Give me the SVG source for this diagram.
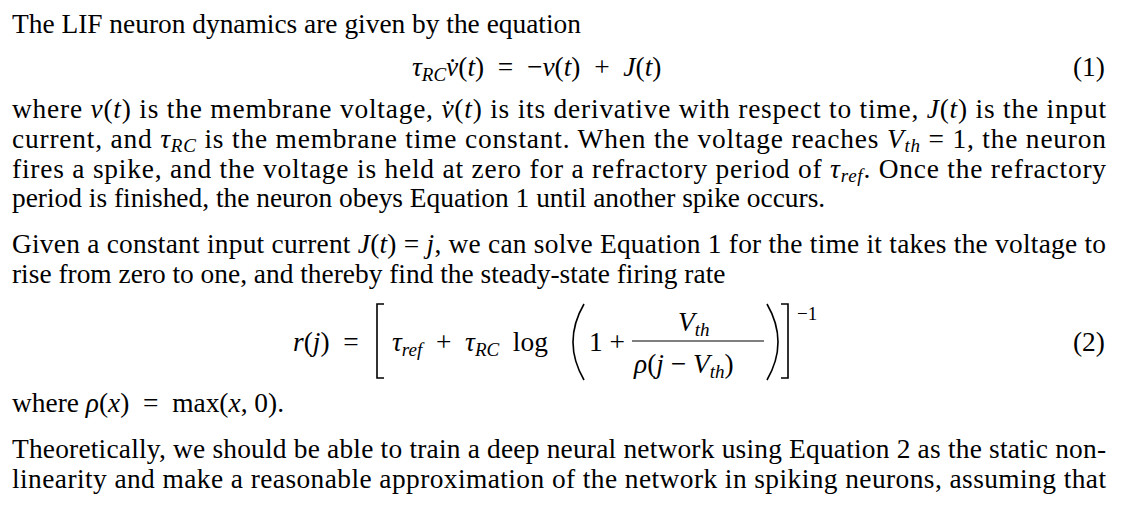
<svg xmlns="http://www.w3.org/2000/svg" width="1121" height="505" viewBox="0 0 1121 505">
<style>
text{font-family:"Liberation Serif","Times New Roman",serif;font-size:27.4px;fill:#000}
.i{font-style:italic}
.s{font-size:19px}
.d{fill:none;stroke:#000;stroke-width:1.6}
</style>
<rect width="1121" height="505" fill="#fff"/>
<text x="12" y="33">The LIF neuron dynamics are given by the equation</text>
<text x="412" y="76" xml:space="preserve"><tspan class="i">τ</tspan><tspan class="i s" dy="5">RC</tspan><tspan class="i" dy="-5">v̇</tspan>(<tspan class="i">t</tspan>)  =  −<tspan class="i">v</tspan>(<tspan class="i">t</tspan>)  +  <tspan class="i">J</tspan>(<tspan class="i">t</tspan>)</text>
<text x="1073" y="76">(1)</text>
<text x="12" y="118" textLength="1094" lengthAdjust="spacing">where <tspan class="i">v</tspan>(<tspan class="i">t</tspan>) is the membrane voltage, <tspan class="i">v̇</tspan>(<tspan class="i">t</tspan>) is its derivative with respect to time, <tspan class="i">J</tspan>(<tspan class="i">t</tspan>) is the input</text>
<text x="12" y="148" textLength="1094" lengthAdjust="spacing">current, and <tspan class="i">τ</tspan><tspan class="i s" dy="4">RC</tspan><tspan dy="-4"> is the membrane time constant.  When the voltage reaches </tspan><tspan class="i">V</tspan><tspan class="i s" dy="4">th</tspan><tspan dy="-4"> = 1, the neuron</tspan></text>
<text x="12" y="178" textLength="1094" lengthAdjust="spacing">fires a spike, and the voltage is held at zero for a refractory period of <tspan class="i">τ</tspan><tspan class="i s" dy="4">ref</tspan><tspan dy="-4">.  Once the refractory</tspan></text>
<text x="12" y="207">period is finished, the neuron obeys Equation 1 until another spike occurs.</text>
<text x="12" y="253" textLength="1094" lengthAdjust="spacing">Given a constant input current <tspan class="i">J</tspan>(<tspan class="i">t</tspan>) = <tspan class="i">j</tspan>, we can solve Equation 1 for the time it takes the voltage to</text>
<text x="12" y="283">rise from zero to one, and thereby find the steady-state firing rate</text>
<text x="293" y="351" xml:space="preserve"><tspan class="i">r</tspan>(<tspan class="i">j</tspan>)  =</text>
<path class="d" d="M384,304 H377 V378 H384"/>
<text x="392" y="351" xml:space="preserve"><tspan class="i">τ</tspan><tspan class="i s" dy="5">ref</tspan><tspan dy="-5">  +  </tspan><tspan class="i">τ</tspan><tspan class="i s" dy="5">RC</tspan><tspan dy="-5">  log</tspan></text>
<path class="d" d="M584,304 Q562,342 584,380"/>
<text x="589" y="351" xml:space="preserve">1 +</text>
<text x="678" y="331"><tspan class="i">V</tspan><tspan class="i s" dy="5">th</tspan></text>
<line x1="632" y1="341" x2="764" y2="341" stroke="#000" stroke-width="1.2"/>
<text x="634" y="373" xml:space="preserve"><tspan class="i">ρ</tspan>(<tspan class="i">j</tspan> − <tspan class="i">V</tspan><tspan class="i s" dy="5">th</tspan><tspan dy="-5">)</tspan></text>
<path class="d" d="M767,304 Q789,342 767,380"/>
<path class="d" d="M781,304 H788 V378 H781"/>
<text x="797" y="320" class="s">−1</text>
<text x="1073" y="351">(2)</text>
<text x="12" y="412" xml:space="preserve">where <tspan class="i">ρ</tspan>(<tspan class="i">x</tspan>)  =  max(<tspan class="i">x</tspan>, 0).</text>
<text x="12" y="458" textLength="1094" lengthAdjust="spacing">Theoretically, we should be able to train a deep neural network using Equation 2 as the static non-</text>
<text x="12" y="488" textLength="1094" lengthAdjust="spacing">linearity and make a reasonable approximation of the network in spiking neurons, assuming that</text>
</svg>
